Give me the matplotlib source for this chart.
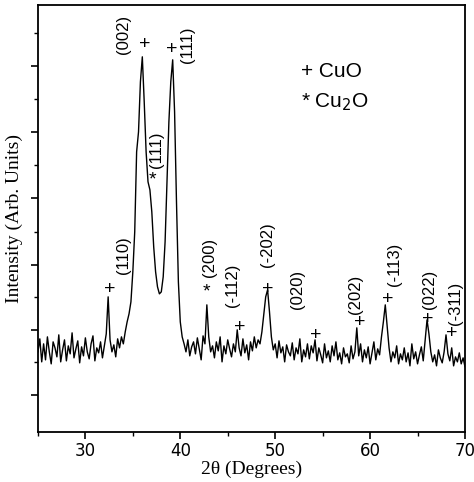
import numpy as np
import matplotlib
matplotlib.use("Agg")
import matplotlib.pyplot as plt

start_deg = 25.0
step_deg = 0.2
intensity = [
 80,93,70,
 88,72,95,80,68,90,84,75,97,70,
 82,92,71,86,78,99,74,83,91,69,
 85,76,94,80,73,88,96,71,84,79,
 90,74,86,98,135,92,80,87,75,93,
 84,95,88,100,110,118,130,160,200,280,
 300,350,375,330,280,250,242,220,185,160,
 145,138,140,155,190,250,310,350,372,320,
 230,150,110,95,88,80,92,76,85,90,
 78,94,83,72,96,88,127,95,80,86,
 74,90,81,95,70,86,78,92,83,75,
 88,80,102,84,76,93,79,87,72,90,
 81,95,84,92,88,100,118,135,142,120,
 95,82,88,74,91,79,85,70,87,80,
 76,89,72,84,78,93,70,82,75,88,
 73,86,79,92,71,84,77,69,88,74,
 81,70,86,76,90,72,79,68,84,75,
 78,69,86,73,80,104,76,88,70,82,
 74,85,68,79,90,72,83,77,95,110,
 127,105,84,70,80,74,86,68,78,72,
 84,70,79,66,88,73,80,68,77,85,
 71,92,112,98,80,70,77,66,82,74,
 69,80,97,78,71,84,66,75,70,79,
 68,74,65,80,70,72]

labels = ["(002)", "(111)", "(111)", "(110)", "(200)", "(-112)", "(-202)",
          "(020)", "(202)", "(-113)", "(022)", "(-311)"]
symbols = ["+", "+", "*", "+", "*", "+", "+", "+", "+", "+", "+", "+"]
label_x = [34.0, 40.8, 37.5, 34.0, 43.1, 45.5, 49.2, 52.4, 58.5, 62.6, 66.3, 69.0]
label_y = [397, 387, 282, 177, 174, 147, 187, 142, 137, 167, 142, 128]
sym_x = [36.3, 39.1, 37.1, 32.6, 42.8, 46.3, 49.2, 54.3, 58.9, 61.9, 66.1, 68.6]
sym_y = [387, 382, 252, 142, 140, 104, 142, 96, 109, 132, 112, 98]

x = start_deg + step_deg * np.arange(len(intensity))

fig = plt.figure(figsize=(4.74, 4.82), dpi=100)
ax = fig.add_axes([0.080, 0.104, 0.901, 0.886])
ax.plot(x, intensity, color="black", lw=1.0)
ax.set_xlim(25, 70)
ax.set_ylim(0, 427)
ax.set_xticks([30, 40, 50, 60, 70])
ax.set_xticks(np.arange(25, 71, 5), minor=True)
ax.set_yticks([37, 102, 167, 234, 300, 366])
ax.set_yticks([70, 135, 200, 267, 333, 399], minor=True)
ax.set_yticklabels([])
ax.tick_params(direction="out", length=5, width=1.2, labelsize=12, pad=2)
ax.tick_params(which="minor", direction="out", length=3, width=1)
for s in ax.spines.values():
    s.set_linewidth(1.3)
ax.set_xlabel("2θ (Degrees)", fontsize=14, family="Liberation Serif", labelpad=1)
ax.set_ylabel("Intensity (Arb. Units)", fontsize=14, family="Liberation Serif")

for t, tx, ty in zip(labels, label_x, label_y):
    ax.text(tx, ty, t, rotation=90, ha="center", va="center", fontsize=12,
            family="Liberation Sans")
for s, sx, sy in zip(symbols, sym_x, sym_y):
    ax.text(sx, sy, s, ha="center", va="center", fontsize=14, family="Liberation Sans")

ax.text(52.7, 360, "+ CuO", fontsize=15, va="center", family="Liberation Sans")
ax.text(52.7, 330, "* Cu$_2$O", fontsize=15, va="center", family="Liberation Sans")

fig.savefig("out.png", dpi=100)
